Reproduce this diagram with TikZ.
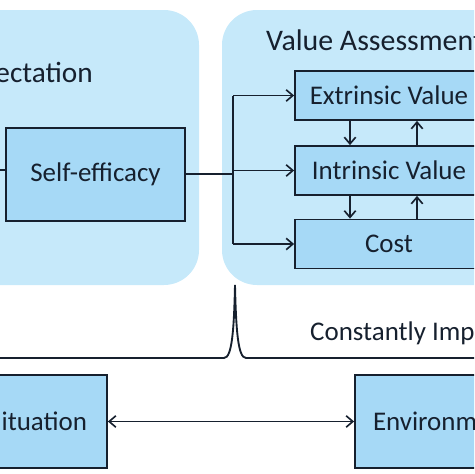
\documentclass[tikz,border=0pt]{standalone}
\usepackage{fontspec}
\setmainfont{Carlito}
\usetikzlibrary{arrows.meta, positioning}
\definecolor{panelblue}{RGB}{198,233,250}
\definecolor{boxblue}{RGB}{166,217,246}
\definecolor{inkdark}{RGB}{22,32,46}

\begin{document}
\begin{tikzpicture}[x=0.03cm, y=-0.03cm,
      panel/.style={fill=panelblue, rounded corners=1.05cm},
      box/.style={rectangle, draw=inkdark, line width=1.5pt, fill=boxblue,
                  font=\fontsize{23}{27}\selectfont, text=inkdark},
      valbox/.style={box, minimum width=5.64cm, minimum height=1.47cm},
      title/.style={inner sep=0pt, font=\fontsize{23}{27}\selectfont, text=inkdark},
      arr/.style={-{Straight Barb[length=2mm,width=3.4mm]}, line width=1.4pt, inkdark},
      link/.style={line width=1.4pt, inkdark}
    ]
    \useasboundingbox (0,0) rectangle (474,474);
    \clip (0,0) rectangle (474,474);

    % background panels
    \fill[panel] (-40,10) rectangle (199,285);
    \fill[panel] (222,10) rectangle (540,285);

    \node[title, anchor=base east, font=\fontsize{25}{30}\selectfont] (expt) at (93,82) {ectation};
    \node[title, anchor=base west, font=\fontsize{25.5}{30}\selectfont] (vat) at (266,50) {Value Assessment};

    \node[box, minimum width=5.37cm, minimum height=2.79cm] (self) at (95.5,174.5) {Self-efficacy};

    \node[valbox] (ext) at (389,95.5) {Extrinsic Value};
    \node[valbox] (int) at (389,170.5) {Intrinsic Value};
    \node[valbox] (cost) at (389,244) {Cost};

    \coordinate (lin) at (0,170);
    \draw[link] (lin) -- (self.west |- lin);

    \coordinate (split) at (233,174);
    \coordinate (stop) at (233,95.5);
    \coordinate (sbot) at (233,244);
    \draw[link] (self.east |- split) -- (split);
    \draw[link] (stop) -- (sbot);
    \draw[arr] (stop) -- (ext.west |- stop);
    \draw[arr] (split |- int) -- (int.west);
    \draw[arr] (sbot) -- (cost.west |- sbot);

    % links between the value boxes
    \foreach \a/\b in {ext/int, int/cost}{
      \draw[arr] ([xshift=-1.17cm]\a.south) -- ([xshift=-1.17cm]\b.north);
      \draw[arr] ([xshift=0.84cm]\b.north) -- ([xshift=0.84cm]\a.south);
    }

    % brace
    \coordinate (btip) at (235,285);
    \draw[link, line width=1.6pt] (-10,358) -- (224,358)
      .. controls (232,358) and (234,330) .. (btip)
      .. controls (236,330) and (238,358) .. (246,358) -- (520,358);
    \node[title, anchor=base west] (imp) at (310,340) {Constantly Imp};

    \node[box, minimum width=4.11cm, minimum height=2.79cm, text width=2.91cm,
          align=right, inner xsep=0.6cm] (sit) at (38.5,421.5) {ituation};
    \node[box, minimum width=6.15cm, minimum height=2.79cm, text width=5.07cm,
          align=left, inner xsep=0.54cm] (env) at (457.5,421.5) {Environm};

    \draw[arr, {Straight Barb[length=2mm,width=3.4mm]}-{Straight Barb[length=2mm,width=3.4mm]}]
      (sit.east) -- (env.west);
  \end{tikzpicture}
\end{document}
